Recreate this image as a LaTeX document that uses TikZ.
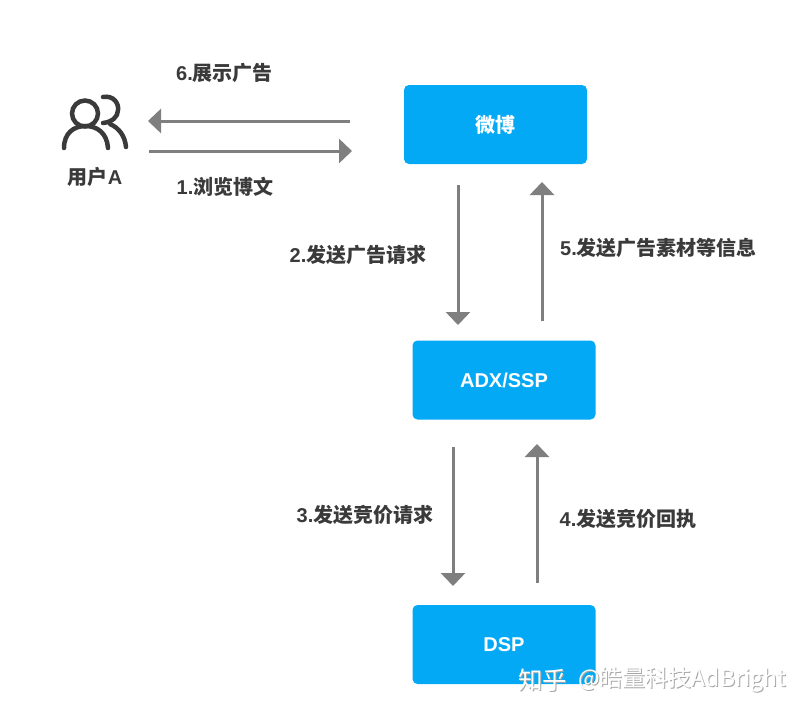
\documentclass[tikz,border=0pt]{standalone}
\usepackage{fontspec}
\setmainfont{Liberation Sans}
\newfontfamily\cjk{Noto Sans CJK SC}
\usetikzlibrary{arrows.meta}
\definecolor{boxblue}{HTML}{03A9F4}
\definecolor{arrowgray}{HTML}{7F7F7F}
\definecolor{labelgray}{HTML}{3A3A3A}
\newcommand{\zh}[1]{{\cjk\bfseries #1}}
\tikzset{
  bluebox/.style={fill=boxblue,rounded corners=5pt,minimum width=183pt,minimum height=79pt,inner sep=0pt,text=white,font=\bfseries\fontsize{20}{22}\selectfont},
  flow/.style={draw=arrowgray,line width=3pt,-{Triangle[length=13pt,width=24pt]}},
  steplabel/.style={text=labelgray,font=\bfseries\fontsize{20}{22}\selectfont,inner sep=0pt},
  iconline/.style={draw=labelgray,line width=4.5pt,line cap=round},
}
\begin{document}
\begin{tikzpicture}[x=1pt,y=-1pt]
\useasboundingbox (0,0) rectangle (806,715);
\fill[white] (0,0) rectangle (806,715);
\node[bluebox] (weibo) at (495.5,124.5) {\zh{微博}};
\node[bluebox] (adx) at (504,380) {ADX/SSP};
\node[bluebox] (dsp) at (504,644.5) {DSP};
% free arrow ends
\coordinate (a6s) at (350,121); \coordinate (a6e) at (148,121);
\coordinate (a1s) at (149,151); \coordinate (a1e) at (352,151);
\coordinate (a2s) at (458,185); \coordinate (a2e) at (458,325);
\coordinate (a5s) at (542,321); \coordinate (a5e) at (542,182);
\coordinate (a3s) at (453,447); \coordinate (a3e) at (453,586);
\coordinate (a4s) at (537,583); \coordinate (a4e) at (537,444);
\draw[flow] (a6s) -- (a6e);
\draw[flow] (a1s) -- (a1e);
\draw[flow] (a2s) -- (a2e);
\draw[flow] (a5s) -- (a5e);
\draw[flow] (a3s) -- (a3e);
\draw[flow] (a4s) -- (a4e);
\node[steplabel] (l6) at (224.5,73) {6.\zh{展示广告}};
\node[steplabel] (l1) at (225,187) {1.\zh{浏览博文}};
\node[steplabel] (l2) at (358,255) {2.\zh{发送广告请求}};
\node[steplabel] (l5) at (658.5,248) {5.\zh{发送广告素材等信息}};
\node[steplabel] (l3) at (365,515) {3.\zh{发送竞价请求}};
\node[steplabel] (l4) at (628,519) {4.\zh{发送竞价回执}};
\node[steplabel] (user) at (95,177) {\zh{用户}A};
% user icon
\draw[iconline] (85,113.5) circle (13);
\draw[iconline] (64,148) .. controls (64,133) and (74,126) .. (85.5,126) .. controls (97,126) and (107,133) .. (108,148);
\draw[iconline] (103,97) .. controls (114,95) and (119,104) .. (118,110) .. controls (118,117) and (112,122) .. (103,123);
\draw[iconline] (110,124) .. controls (119,128) and (125,136) .. (126,147);
% watermark
\foreach \dx/\dy/\col in {1/1/gray!70,0/0/white}{
  \node[text=\col,font=\cjk\fontsize{24.5}{26}\selectfont,inner sep=0pt,anchor=west] at (518+\dx,680+\dy) {知乎};
  \node[text=\col,font=\cjk\fontsize{23}{26}\selectfont,inner sep=0pt,anchor=west] at (578+\dx,680+\dy) {@皓量科技AdBright};
}
\end{tikzpicture}
\end{document}
